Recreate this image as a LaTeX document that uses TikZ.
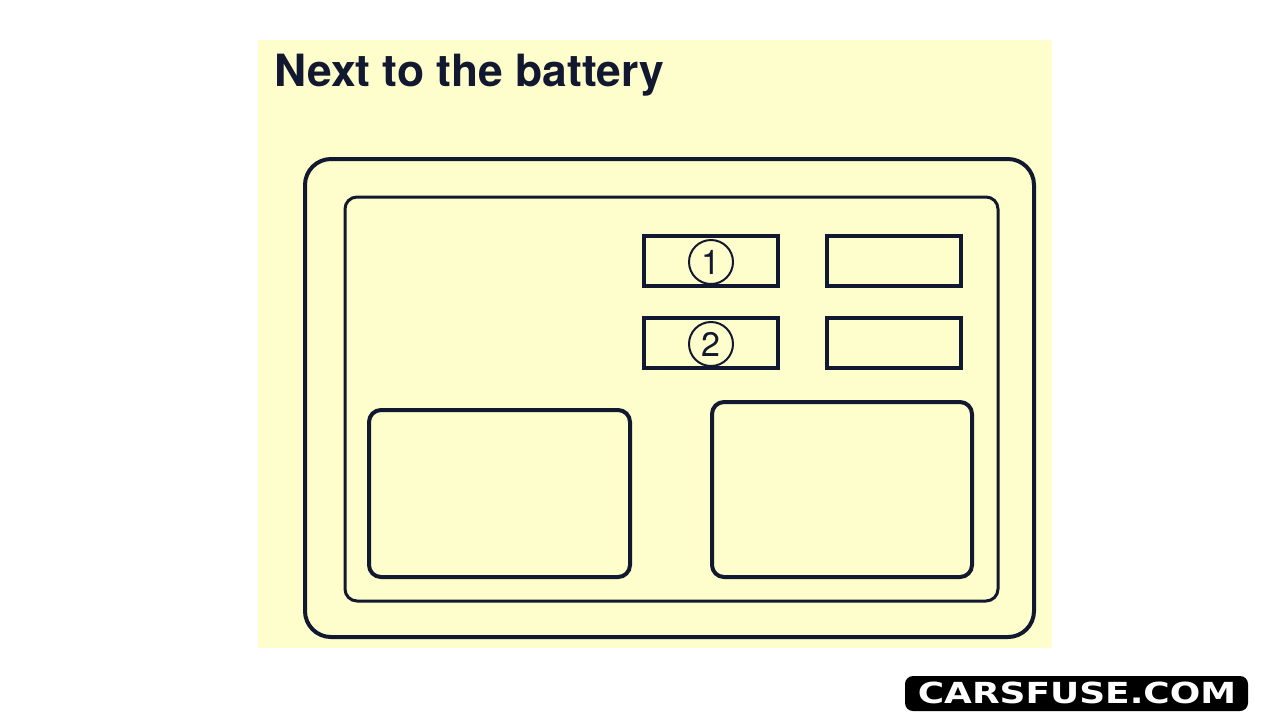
\documentclass[tikz,border=0pt]{standalone}
\usepackage{fontspec}
\setmainfont{TeX Gyre Heros}
\newfontfamily\wmfont{DejaVu Sans}
\definecolor{bgyellow}{HTML}{FEFDCC}
\definecolor{ink}{HTML}{111830}
\tikzset{
  outerbox/.style={draw=ink, line width=2pt, rounded corners=13pt},
  innerbox/.style={draw=ink, line width=1.5pt, rounded corners=6pt},
  fusebox/.style={draw=ink, line width=2pt},
  bigbox/.style={draw=ink, line width=2pt, rounded corners=6pt},
  numcirc/.style={circle, draw=ink, line width=1pt, minimum size=22pt, inner sep=0pt, font=\fontsize{17}{17}\selectfont, text=ink},
}
\begin{document}
\begin{tikzpicture}[x=0.5pt,y=-0.5pt]
\useasboundingbox (0,0) rectangle (1280,720);
\fill[white] (0,0) rectangle (1280,720);
\fill[bgyellow] (258,40) rectangle (1052,648);
\node[anchor=base west, inner sep=0pt, font=\fontsize{22.2}{22.2}\selectfont\bfseries, text=ink] (title) at (274,86) {Next to the battery};
\draw[outerbox] (305,159) rectangle (1034,637);
\draw[innerbox] (345,197) rectangle (998,601);
\node[fusebox, minimum width=67pt, minimum height=25pt, inner sep=0pt] (f1) at (710.5,261) {};
\node[fusebox, minimum width=67pt, minimum height=25pt, inner sep=0pt] (f2) at (893.5,261) {};
\node[fusebox, minimum width=67pt, minimum height=25pt, inner sep=0pt] (f3) at (710.5,343) {};
\node[fusebox, minimum width=67pt, minimum height=25pt, inner sep=0pt] (f4) at (893.5,343) {};
\node[numcirc] (n1) at (711,262) {1};
\node[numcirc] (n2) at (711,344) {2};
\draw[bigbox] (369,410) rectangle (630,577);
\draw[bigbox] (712,402) rectangle (972,577);
\fill[black, rounded corners=4pt] (905,676) rectangle (1248,711);
\node[text=white, inner sep=0pt, font=\wmfont\bfseries\fontsize{14.5}{14.5}\selectfont, xscale=1.24] (wm) at (1077,693) {CARSFUSE.COM};
\end{tikzpicture}
\end{document}
